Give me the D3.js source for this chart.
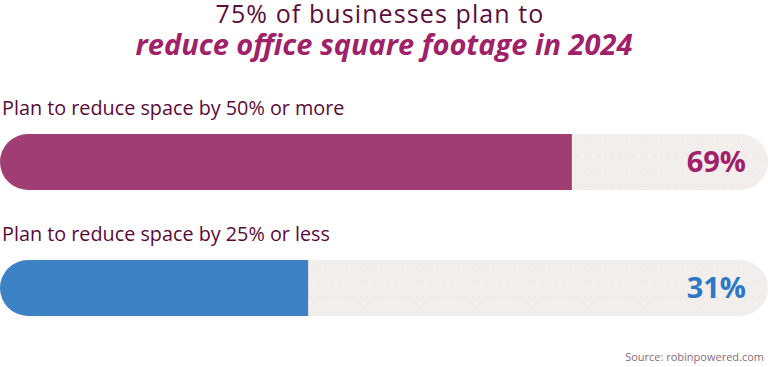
<!DOCTYPE html>
<html>
<head>
<meta charset="utf-8">
<script src="https://cdn.jsdelivr.net/npm/d3@7"></script>
<style>
  body { margin: 0; background: #fff; }
  svg { display: block; font-family: "Open Sans", Lato, sans-serif; }
</style>
</head>
<body>
<div id="chart"></div>
<script>
// data
const labels = ["Plan to reduce space by 50% or more", "Plan to reduce space by 25% or less"];
const values = [69, 31];
const colors = ["#a03d73", "#3d82c5"];
const textColors = ["#a1206a", "#2c78c6"];

const width = 768, height = 367;

const svg = d3.select("#chart")
    .append("svg")
    .attr("width", width)
    .attr("height", height);

// dotted texture for the track
const defs = svg.append("defs");
const pat = defs.append("pattern")
    .attr("id", "dots")
    .attr("width", 7)
    .attr("height", 15)
    .attr("patternUnits", "userSpaceOnUse");
pat.append("rect").attr("width", 7).attr("height", 15).attr("fill", "#f2eeeb");
pat.append("circle").attr("cx", 3.5).attr("cy", 7).attr("r", 0.6).attr("fill", "#e2dcd6");

// title
svg.append("text")
    .attr("x", 380).attr("y", 23)
    .attr("text-anchor", "middle")
    .attr("font-size", 25)
    .attr("letter-spacing", 1.1)
    .attr("fill", "#5c0e3c")
    .text("75% of businesses plan to");

svg.append("text")
    .attr("x", 384).attr("y", 55)
    .attr("text-anchor", "middle")
    .attr("font-size", 29)
    .attr("font-weight", 700)
    .attr("font-style", "italic")
    .attr("fill", "#a1206a")
    .text("reduce office square footage in 2024");

// scales
const y = d3.scaleBand()
    .domain(labels)
    .range([134, 316])
    .paddingInner(0.5556);

const x = d3.scaleLinear()
    .domain([0, 100])
    .range([93, 787]);

const barH = y.bandwidth();
const r = barH / 2;

const g = svg.selectAll(".row")
    .data(labels)
    .enter().append("g")
    .attr("class", "row")
    .attr("transform", d => `translate(0,${y(d)})`);

// category labels
g.append("text")
    .attr("x", 2).attr("y", -19)
    .attr("font-size", 19.8)
    .attr("fill", "#5a0a3a")
    .text(d => d);

// track
g.append("rect")
    .attr("x", 0).attr("y", 0)
    .attr("width", width)
    .attr("height", barH)
    .attr("rx", r)
    .attr("fill", "url(#dots)");

// filled bar: rounded left end, square right end
g.append("path")
    .attr("fill", (d, i) => colors[i])
    .attr("d", (d, i) => {
        const xe = x(values[i]);
        return `M${r},0 H${xe} V${barH} H${r} A${r},${r} 0 0 1 ${r},0 Z`;
    });

// value labels
g.append("text")
    .attr("x", 746).attr("y", barH / 2 + 10)
    .attr("text-anchor", "end")
    .attr("font-size", 29)
    .attr("font-weight", 700)
    .attr("fill", (d, i) => textColors[i])
    .text((d, i) => values[i] + "%");

// source
svg.append("text")
    .attr("x", 764).attr("y", 361)
    .attr("text-anchor", "end")
    .attr("font-size", 11)
    .attr("fill", "#8a6a7c")
    .text("Source: robinpowered.com");
</script>
</body>
</html>
